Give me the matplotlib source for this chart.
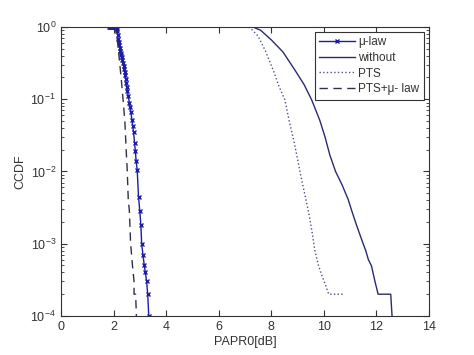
import matplotlib
matplotlib.use("Agg")
import matplotlib.pyplot as plt

plt.rcParams['font.family'] = ['Liberation Sans', 'DejaVu Sans']

# data (x in dB, y = CCDF)
mu_x = [1.84, 1.86, 1.88, 1.9, 1.92, 1.94, 1.96, 1.98, 2.0, 2.02, 2.04, 2.06, 2.08, 2.1,
        2.12, 2.14, 2.16, 2.18, 2.2, 2.22, 2.24, 2.26, 2.28, 2.3, 2.32, 2.34, 2.36,
        2.38, 2.4, 2.42, 2.44, 2.46, 2.48, 2.5, 2.53, 2.56, 2.6, 2.63, 2.66, 2.7,
        2.73, 2.76, 2.8, 2.83, 2.86, 2.9, 2.95, 3.0, 3.04, 3.07, 3.12, 3.17, 3.21,
        3.26, 3.3, 3.34]
mu_y = [1.0, 1.0, 1.0, 1.0, 1.0, 1.0, 1.0, 1.0, 0.998, 0.995, 0.99, 0.985, 0.975, 0.96,
        0.94, 0.88, 0.78, 0.68, 0.62, 0.56, 0.51, 0.47, 0.44, 0.41, 0.38, 0.35, 0.32,
        0.29, 0.265, 0.24, 0.215, 0.19, 0.17, 0.15, 0.13, 0.11, 0.09, 0.078, 0.066, 0.052,
        0.043, 0.035, 0.025, 0.019, 0.014, 0.0105, 0.0045, 0.0028, 0.0018, 0.001, 0.0007,
        0.0005, 0.0004, 0.0003, 0.0002, 0.0001]

without_x = [7.3, 7.6, 8.01, 8.45, 8.9, 9.25, 9.54, 9.85, 10.05, 10.23, 10.45, 10.7, 10.93,
             11.06, 11.25, 11.5, 11.6, 11.7, 11.82, 11.95, 12.07, 12.55, 12.6]
without_y = [1.0, 0.9, 0.66, 0.45, 0.254, 0.16, 0.098, 0.051, 0.03, 0.017, 0.01, 0.0065, 0.0041,
             0.0029, 0.0018, 0.001, 0.0008, 0.0006, 0.00049, 0.0003, 0.0002, 0.0002, 0.0001]

pts_x = [7.0, 7.19, 7.5, 7.8, 8.08, 8.3, 8.52, 8.68, 8.85, 8.97, 9.15, 9.32, 9.41,
         9.55, 9.66, 9.8, 9.92, 10.05, 10.19, 10.76]
pts_y = [1.0, 0.98, 0.75, 0.45, 0.25, 0.15, 0.098, 0.051, 0.028, 0.017, 0.008, 0.0041, 0.0029,
         0.0015, 0.00081, 0.0005, 0.00037, 0.00028, 0.0002, 0.0002]

ptsmu_x = [1.95, 2.0, 2.05, 2.12, 2.18, 2.24, 2.3, 2.36, 2.43, 2.48, 2.52, 2.56, 2.6,
           2.65, 2.72, 2.78, 2.78, 2.84, 2.87]
ptsmu_y = [1.0, 1.0, 0.98, 0.8, 0.5, 0.3, 0.18, 0.1, 0.05, 0.02, 0.0105, 0.0041, 0.0029,
           0.001, 0.0005, 0.0003, 0.0002, 0.0002, 0.0001]

x_ticks = [0, 2, 4, 6, 8, 10, 12, 14]

fig = plt.figure(figsize=(4.74, 3.55), dpi=100)
ax = fig.add_axes([0.1287, 0.110, 0.776, 0.814])

ax.semilogy(mu_x, mu_y, color='#1c1ca8', marker='x', markersize=3.2, markeredgewidth=1.0,
            linewidth=1.0, label=u'\u03bc-law')
ax.semilogy(without_x, without_y, color='#2a2a72', linewidth=1.0, label='without')
ax.semilogy(pts_x, pts_y, color='#50508a', linestyle=':', linewidth=1.0, label='PTS')
ax.semilogy(ptsmu_x, ptsmu_y, color='#30304a', linestyle=(0, (6, 4)), linewidth=1.0,
            label=u'PTS+\u03bc- law')

ax.set_xlim(0, 14)
ax.set_ylim(1e-4, 1)
ax.set_xticks(x_ticks)
ax.set_xticklabels([str(t) for t in x_ticks])
ax.tick_params(which='both', direction='in', top=True, right=True, labelsize=9,
               labelcolor='#333333', color='#333333')
ax.tick_params(which='major', length=4)
ax.tick_params(which='minor', length=2)
for s in ax.spines.values():
    s.set_linewidth(0.8)
    s.set_color('#333333')

ax.set_xlabel('PAPR0[dB]', fontsize=9, color='#333333', labelpad=2)
ax.set_ylabel('CCDF', fontsize=9, color='#333333', labelpad=3)

leg = ax.legend(loc='upper right', fontsize=8.5, handlelength=3.0, handletextpad=0.3,
                borderpad=0.4, labelspacing=0.3, fancybox=False, framealpha=1,
                edgecolor='#333333', borderaxespad=0.4)
leg.get_frame().set_linewidth(0.8)
for t in leg.get_texts():
    t.set_color('#333333')

fig.savefig('out.png', dpi=100)
